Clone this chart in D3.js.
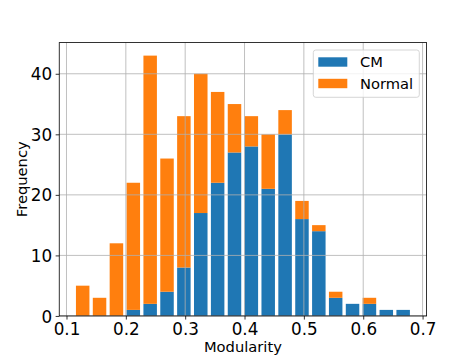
<!DOCTYPE html>
<html>
<head>
<meta charset="utf-8">
<script src="https://cdn.jsdelivr.net/npm/d3@7"></script>
<style>
  html, body { margin: 0; padding: 0; background: #ffffff; }
  svg { display: block; font-family: "DejaVu Sans", sans-serif; }
</style>
</head>
<body>
<svg id="chart" width="474" height="355"></svg>
<script>
// ---- data ----
const binEdges = [0.1131, 0.1415, 0.1699, 0.1984, 0.2268, 0.2552, 0.2836, 0.3120, 0.3405, 0.3689,
                  0.3973, 0.4257, 0.4541, 0.4826, 0.5110, 0.5394, 0.5678, 0.5962, 0.6247, 0.6531, 0.6815];
const cmCounts     = [0, 0, 0, 1, 2, 4, 8, 17, 22, 27, 28, 21, 30, 16, 14, 3, 2, 2, 1, 1];
const normalCounts = [5, 3, 12, 21, 41, 22, 25, 23, 15, 8, 5, 9, 4, 3, 1, 1, 0, 1, 0, 0];
const seriesNames = ["CM", "Normal"];
const xTicks = [0.1, 0.2, 0.3, 0.4, 0.5, 0.6, 0.7];
const yTicks = [0, 10, 20, 30, 40];
const xLabel = "Modularity";
const yLabel = "Frequency";

(function () {
// ---- layout ----
const pL = 59.25, pR = 426.6, pT = 42.6, pB = 315.95;
const colors = ["#1f77b4", "#ff7f0e"];
const rwidth = 0.8;
const tickFs = 16.8, labelFs = 14.7;

const svg = d3.select("#chart");

const rows = cmCounts.map((c, i) => ({ x0: binEdges[i], x1: binEdges[i + 1], CM: c, Normal: normalCounts[i] }));
const stack = d3.stack().keys(seriesNames)(rows);

const barLo = d3.min(rows, d => d.x0 + (d.x1 - d.x0) * (1 - rwidth) / 2);
const barHi = d3.max(rows, d => d.x1 - (d.x1 - d.x0) * (1 - rwidth) / 2);
const pad = (barHi - barLo) * 0.05;
const x = d3.scaleLinear().domain([barLo - pad, barHi + pad]).range([pL, pR]);
const yMax = d3.max(stack[stack.length - 1], d => d[1]) * 1.05;
const y = d3.scaleLinear().domain([0, yMax]).range([pB, pT]);

// bars
const g = svg.append("g");
stack.forEach((s, si) => {
  g.append("g").attr("fill", colors[si])
    .selectAll("rect").data(s).enter().append("rect")
    .attr("x", d => { const w = d.data.x1 - d.data.x0; return x(d.data.x0 + w * (1 - rwidth) / 2); })
    .attr("width", d => { const w = d.data.x1 - d.data.x0; return x(d.data.x0 + w * rwidth) - x(d.data.x0); })
    .attr("y", d => y(d[1]))
    .attr("height", d => y(d[0]) - y(d[1]));
});

// grid (above bars, matplotlib default)
const grid = svg.append("g").attr("stroke", "#b0b0b0").attr("stroke-width", 0.8);
xTicks.forEach(t => grid.append("line").attr("x1", x(t)).attr("x2", x(t)).attr("y1", pT).attr("y2", pB));
yTicks.forEach(t => grid.append("line").attr("x1", pL).attr("x2", pR).attr("y1", y(t)).attr("y2", y(t)));

// axes
const xAxis = d3.axisBottom(x).tickValues(xTicks).tickFormat(d3.format(".1f")).tickSizeInner(3.6).tickSizeOuter(0).tickPadding(3.6);
const yAxis = d3.axisLeft(y).tickValues(yTicks).tickFormat(d3.format("d")).tickSizeInner(3.6).tickSizeOuter(0).tickPadding(3.6);

const gx = svg.append("g").attr("transform", `translate(0,${pB})`).call(xAxis);
const gy = svg.append("g").attr("transform", `translate(${pL},0)`).call(yAxis);
[gx, gy].forEach(a => {
  a.select(".domain").remove();
  a.selectAll(".tick line").attr("stroke", "#000").attr("stroke-width", 0.8);
  a.selectAll(".tick text").attr("fill", "#000").style("font-size", tickFs + "px").style("font-family", "DejaVu Sans");
});
gx.selectAll(".tick text").attr("dy", null).attr("y", 3.6 + 3.6 + 0.729 * tickFs);
gy.selectAll(".tick text").attr("dy", null).attr("y", 0.729 * tickFs / 2);

// spines
svg.append("rect").attr("x", pL).attr("y", pT).attr("width", pR - pL).attr("height", pB - pT)
  .attr("fill", "none").attr("stroke", "#000").attr("stroke-width", 0.8);

// axis labels
svg.append("text").attr("x", (pL + pR) / 2).attr("y", 351.6).attr("text-anchor", "middle")
  .style("font-size", labelFs + "px").text(xLabel);
svg.append("text").attr("transform", `translate(26.8,${(pT + pB) / 2}) rotate(-90)`).attr("text-anchor", "middle")
  .style("font-size", labelFs + "px").text(yLabel);

// legend
const lg = svg.append("g");
lg.append("rect").attr("x", 313.3).attr("y", 50).attr("width", 106).attr("height", 47.3).attr("rx", 2.5)
  .attr("fill", "#fff").attr("fill-opacity", 0.8).attr("stroke", "#cccccc").attr("stroke-width", 0.8);
seriesNames.forEach((n, i) => {
  const cy = 62 + i * 21.5;
  lg.append("rect").attr("x", 318.3).attr("y", cy - 4.7).attr("width", 29).attr("height", 9.4).attr("fill", colors[i]);
  lg.append("text").attr("x", 360).attr("y", cy + 0.729 * 14.7 / 2).style("font-size", "14.7px").text(n);
});
})();
</script>
</body>
</html>
